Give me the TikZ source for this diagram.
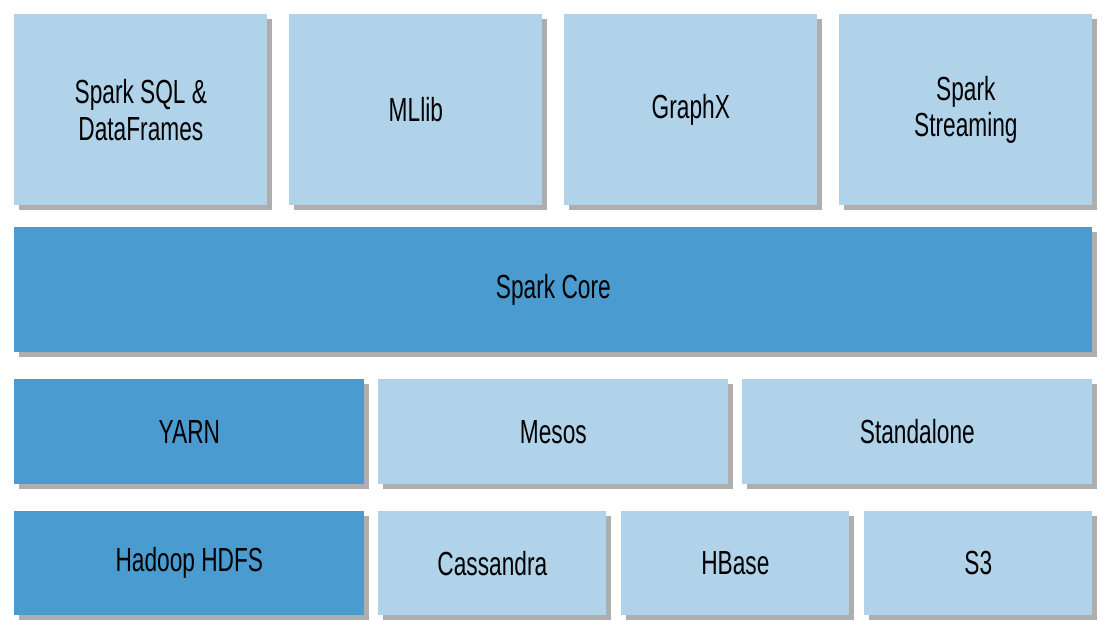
\documentclass[tikz,border=0pt]{standalone}
\usepackage{fontspec}
\setmainfont[FakeStretch=0.68]{Liberation Sans}
\usetikzlibrary{shadows}
\definecolor{lightblue}{HTML}{B0D3EA}
\definecolor{darkblue}{HTML}{4A9BCF}
\begin{document}
\begin{tikzpicture}[x=0.02cm,y=-0.02cm,
    layer/.style={anchor=north west, inner sep=0pt, align=center, font=\fontsize{19}{21}\selectfont,
      drop shadow={shadow xshift=2.5pt, shadow yshift=-2.5pt, fill=black!45, opacity=0.7}},
    light/.style={layer, fill=lightblue},
    dark/.style={layer, fill=darkblue}]
    \useasboundingbox (0,0) rectangle (1120,643);
    % Libraries
    \node[light, minimum width=253\pgflinewidth/\pgflinewidth*0.02cm, minimum height=191*0.02cm] (sql) at (14,14) {Spark SQL \&\\DataFrames};
    \node[light, minimum width=253*0.02cm, minimum height=191*0.02cm] (mllib) at (289,14) {MLlib};
    \node[light, minimum width=253*0.02cm, minimum height=191*0.02cm] (graphx) at (564,14) {GraphX};
    \node[light, minimum width=253*0.02cm, minimum height=191*0.02cm] (streaming) at (839,14) {Spark\\Streaming};
    % Core
    \node[dark, minimum width=1078*0.02cm, minimum height=125*0.02cm] (core) at (14,227) {Spark Core};
    % Cluster managers
    \node[dark, minimum width=350*0.02cm, minimum height=105*0.02cm] (yarn) at (14,379) {YARN};
    \node[light, minimum width=350*0.02cm, minimum height=105*0.02cm] (mesos) at (378,379) {Mesos};
    \node[light, minimum width=350*0.02cm, minimum height=105*0.02cm] (standalone) at (742,379) {Standalone};
    % Storage
    \node[dark, minimum width=350*0.02cm, minimum height=104*0.02cm] (hdfs) at (14,511) {Hadoop HDFS};
    \node[light, minimum width=228*0.02cm, minimum height=104*0.02cm] (cassandra) at (378,511) {Cassandra};
    \node[light, minimum width=228*0.02cm, minimum height=104*0.02cm] (hbase) at (621,511) {HBase};
    \node[light, minimum width=228*0.02cm, minimum height=104*0.02cm] (s3) at (864,511) {S3};
\end{tikzpicture}
\end{document}
